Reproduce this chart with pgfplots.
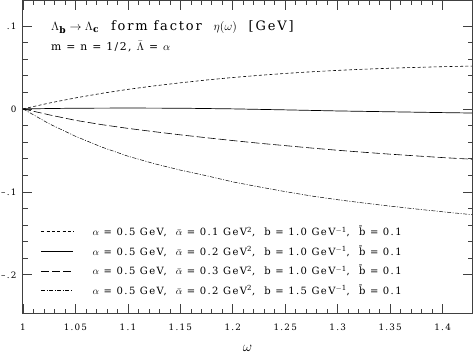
\documentclass[border=0pt]{standalone}
\usepackage{fontspec}
\setmainfont[LetterSpace=14]{DejaVu Serif}
\usepackage{pgfplots}
\pgfplotsset{compat=1.18}
\usetikzlibrary{calc}

\pgfplotstableread{
x y
1.000 0
1.025 0.0070
1.050 0.0132
1.075 0.0187
1.100 0.0235
1.125 0.0277
1.150 0.0314
1.175 0.0348
1.200 0.0378
1.225 0.0404
1.250 0.0427
1.275 0.0447
1.300 0.0464
1.325 0.0478
1.350 0.0490
1.375 0.0500
1.400 0.0508
1.428 0.0516
}\sone
\pgfplotstableread{
x y
1.000 0
1.050 0.0008
1.100 0.0010
1.150 0.0008
1.200 0.0000
1.250 -0.0012
1.300 -0.0025
1.350 -0.0035
1.400 -0.0045
1.428 -0.0050
}\stwo
\pgfplotstableread{
x y
1.000 0
1.025 -0.0072
1.050 -0.0138
1.075 -0.0190
1.100 -0.0235
1.125 -0.0275
1.150 -0.0313
1.175 -0.0348
1.200 -0.0382
1.225 -0.0414
1.250 -0.0443
1.275 -0.0472
1.300 -0.0499
1.325 -0.0523
1.350 -0.0546
1.375 -0.0567
1.400 -0.0587
1.428 -0.0607
}\sthree
\pgfplotstableread{
x y
1.000 0
1.025 -0.0180
1.050 -0.0330
1.075 -0.0460
1.100 -0.0570
1.125 -0.0660
1.150 -0.0738
1.175 -0.0806
1.200 -0.0880
1.225 -0.0940
1.250 -0.0997
1.275 -0.1050
1.300 -0.1095
1.325 -0.1135
1.350 -0.1172
1.375 -0.1207
1.400 -0.1240
1.428 -0.1275
}\sfour

\begin{document}
\begin{tikzpicture}
\begin{axis}[
  scale only axis, width=449pt, height=312pt,
  xmin=1, xmax=1.428, ymin=-0.246, ymax=0.13,
  xtick={1,1.05,1.1,1.15,1.2,1.25,1.3,1.35,1.4},
  xticklabels={1,1.05,1.1,1.15,1.2,1.25,1.3,1.35,1.4},
  ytick={-0.2,-0.1,0,0.1},
  yticklabels={--.2,--.1,0,.1},
  minor x tick num=4, minor y tick num=4,
  tick align=inside,
  major tick length=9pt, minor tick length=4.5pt,
  axis line style={line width=1pt, black!75},
  every tick/.style={line width=0.7pt, black!75},
  ticklabel style={font=\fontsize{8.8}{10}\selectfont},
  xticklabel style={yshift=-7pt},
  yticklabel style={xshift=-3pt},
  xlabel={$\omega$},
  xlabel style={at={(axis description cs:0.5,0)}, anchor=center, yshift=-35pt, font=\fontsize{14}{15}\selectfont},
  legend image code/.code={\draw[#1] (0pt,0pt) -- (32pt,0pt);},
  legend style={draw=none, fill=none, at={(rel axis cs:0.033,0.292)}, anchor=north west,
    font=\fontsize{10}{12}\selectfont, row sep=4.5pt, column sep=17pt},
  legend cell align=left,
  clip=true,
]
\addplot[black, line width=0.6pt, dash pattern=on 3pt off 2.3pt] table {\sone};
\addlegendentry{$\alpha$ = 0.5 GeV,\ \ $\bar\alpha$ = 0.1 GeV\textsuperscript{2},\ \ b = 1.0 GeV\textsuperscript{$-$1},\ \ \={b} = 0.1}
\addplot[black, line width=0.7pt] table {\stwo};
\addlegendentry{$\alpha$ = 0.5 GeV,\ \ $\bar\alpha$ = 0.2 GeV\textsuperscript{2},\ \ b = 1.0 GeV\textsuperscript{$-$1},\ \ \={b} = 0.1}
\addplot[black, line width=0.6pt, dash pattern=on 8pt off 3pt] table {\sthree};
\addlegendentry{$\alpha$ = 0.5 GeV,\ \ $\bar\alpha$ = 0.3 GeV\textsuperscript{2},\ \ b = 1.0 GeV\textsuperscript{$-$1},\ \ \={b} = 0.1}
\addplot[black, line width=0.5pt, dash pattern=on 4pt off 1.5pt on 1pt off 1.5pt] table {\sfour};
\addlegendentry{$\alpha$ = 0.5 GeV,\ \ $\bar\alpha$ = 0.2 GeV\textsuperscript{2},\ \ b = 1.5 GeV\textsuperscript{$-$1},\ \ \={b} = 0.1}
\node[anchor=west, font=\fontsize{13}{15}\selectfont] at (rel axis cs:0.055,0.917)
  {$\Lambda_{\mathbf b}\rightarrow\Lambda_{\mathbf c}$\ \ form factor\ \ $\eta(\omega)$\ \ [GeV]};
\node[anchor=west, font=\fontsize{10.8}{12}\selectfont] at (rel axis cs:0.055,0.853)
  {m = n = 1/2, $\bar\Lambda$ = $\alpha$};
\end{axis}
\pgfresetboundingbox
\path ($(current axis.south west)+(-23pt,-41pt)$) rectangle ($(current axis.north east)+(2pt,1pt)$);
\end{tikzpicture}
\end{document}
